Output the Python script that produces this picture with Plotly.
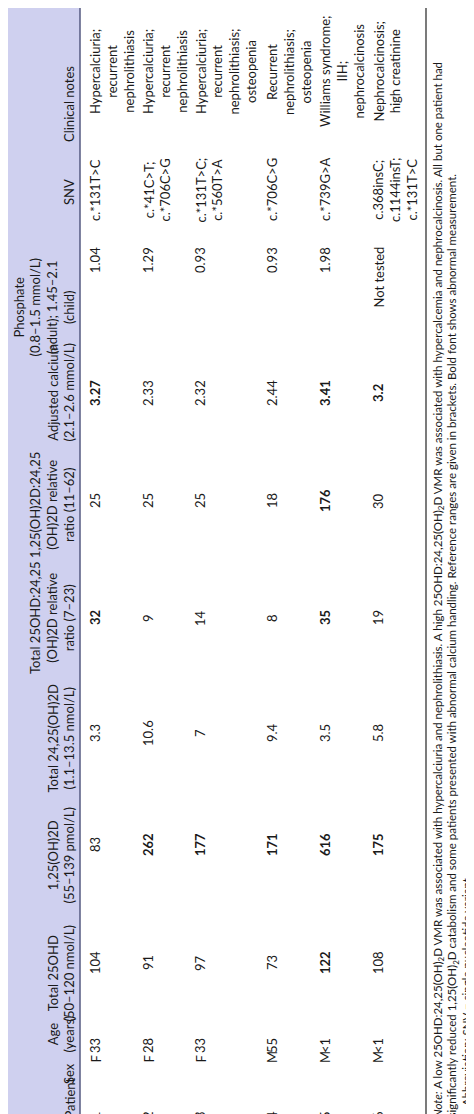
import plotly.graph_objects as go

# table data (one list per column, rows = patients 1-6)
patient = ["1", "2", "3", "4", "5", "6"]
sex = ["F", "F", "F", "M", "M", "M"]
age = ["33", "28", "33", "55", "<1", "<1"]
total_25ohd = ["104", "91", "97", "73", "122", "108"]
d125 = ["83", "262", "177", "171", "616", "175"]
total_2425 = ["3.3", "10.6", "7", "9.4", "3.5", "5.8"]
ratio_25_2425 = ["32", "9", "14", "8", "35", "19"]
ratio_125_2425 = ["25", "25", "25", "18", "176", "30"]
adj_calcium = ["3.27", "2.33", "2.32", "2.44", "3.41", "3.2"]
phosphate = ["1.04", "1.29", "0.93", "0.93", "1.98", "Not tested"]
snv = ["c.*131T>C", "c.*41C>T;<br>c.*706C>G", "c.*131T>C;<br>c.*560T>A",
       "c.*706C>G", "c.*739G>A", "c.368insC;<br>c.1144insT;<br>c.*131T>C"]
notes = ["Hypercalciuria;<br>recurrent<br>nephrolithiasis",
         "Hypercalciuria;<br>recurrent<br>nephrolithiasis",
         "Hypercalciuria;<br>recurrent<br>nephrolithiasis;<br>osteopenia",
         "Recurrent<br>nephrolithiasis;<br>osteopenia",
         "Williams syndrome;<br>IIH;<br>nephrocalcinosis",
         "Nephrocalcinosis;<br>high creatinine"]
# abnormal (bold) flags
bold_25ohd = [0, 0, 0, 0, 1, 0]
bold_125 = [0, 1, 1, 1, 1, 1]
bold_r1 = [1, 0, 0, 0, 1, 0]
bold_r2 = [0, 0, 0, 0, 1, 0]
bold_ca = [1, 0, 0, 0, 1, 1]

headers = ["Patient", "Sex", "Age<br>(years)", "Total 25OHD<br>(50–120 nmol/L)",
           "1,25(OH)2D<br>(55–139 pmol/L)", "Total 24,25(OH)2D<br>(1.1–13.5 nmol/L)",
           "Total 25OHD:24,25<br>(OH)2D relative<br>ratio (7–23)",
           "1,25(OH)2D:24,25<br>(OH)2D relative<br>ratio (11–62)",
           "Adjusted calcium<br>(2.1–2.6 mmol/L)",
           "Phosphate<br>(0.8–1.5 mmol/L)<br>(adult); 1.45–2.1<br>(child)",
           "SNV", "Clinical notes"]

# layout of the rotated table (in page pixels)
head_y = [1113, 1066, 1026, 966, 848, 730, 610, 497, 385, 300, 184, 96]
head_ya = ["bottom"] + ["middle"] * 11
row_x = [77, 130, 182, 254, 307, 360]
FONT = "Lato"
TXT = "#1a1a1a"

fig = go.Figure()
fig.add_shape(type="rect", x0=0, x1=72, y0=0, y1=1114, fillcolor="#cfd0ef",
              line_width=0, layer="below")
fig.add_shape(type="line", x0=72, x1=72, y0=0, y1=1114, line=dict(color="#555a80", width=1.5))
fig.add_shape(type="line", x0=418, x1=418, y0=0, y1=1114, line=dict(color="#222", width=1.2))

ann = []
for h, y, ya in zip(headers, head_y, head_ya):
    ann.append(dict(x=71, y=y, text=h, textangle=-90, xanchor="right", yanchor=ya,
                    align="center", showarrow=False, font=dict(size=13, family=FONT, color=TXT)))

cols = [(patient, None, 1113, "bottom"), (sex, None, 1057, "bottom"),
        (age, None, 1038, "middle"), (total_25ohd, bold_25ohd, 955, "middle"),
        (d125, bold_125, 837, "middle"), (total_2425, None, 725, "middle"),
        (ratio_25_2425, bold_r1, 610, "middle"), (ratio_125_2425, bold_r2, 493, "middle"),
        (adj_calcium, bold_ca, 385, "middle"), (phosphate, None, 237, "top"),
        (snv, None, 182, "middle"), (notes, None, 64, "middle")]
for vals, bold, y, ya in cols:
    for i, v in enumerate(vals):
        t = "<b>%s</b>" % v if bold and bold[i] else v
        ann.append(dict(x=row_x[i], y=y, text=t, textangle=-90, xanchor="left", yanchor=ya,
                        align="center", showarrow=False, font=dict(size=13, family=FONT, color=TXT)))

note = ("<i>Note:</i> A low 25OHD:24,25(OH)<sub>2</sub>D VMR was associated with hypercalciuria and nephrolithiasis. "
        "A high 25OHD:24,25(OH)<sub>2</sub>D VMR was associated with hypercalcemia and nephrocalcinosis. All but one patient had<br>"
        "significantly reduced 1,25(OH)<sub>2</sub>D catabolism and some patients presented with abnormal calcium handling. "
        "Reference ranges are given in brackets. Bold font shows abnormal measurement.<br>"
        "    Abbreviation: SNV = single nucleotide variant.")
ann.append(dict(x=420, y=1112, text=note, textangle=-90, xanchor="left", yanchor="bottom",
                align="left", showarrow=False, font=dict(size=11.5, family=FONT, color=TXT)))

fig.update_layout(width=474, height=1114, margin=dict(l=0, r=0, t=0, b=0),
                  paper_bgcolor="white", plot_bgcolor="white", annotations=ann,
                  xaxis=dict(range=[0, 474], visible=False, fixedrange=True),
                  yaxis=dict(range=[1114, 0], visible=False, fixedrange=True),
                  showlegend=False)
fig.write_html("out.html", config={"displayModeBar": False})
